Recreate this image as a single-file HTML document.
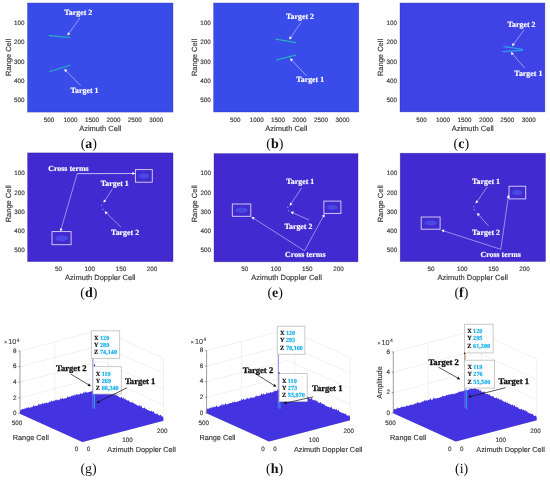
<!DOCTYPE html>
<html><head><meta charset="utf-8"><style>
html,body{margin:0;padding:0;background:#fff;width:550px;height:480px;overflow:hidden}
svg{display:block} text{text-rendering:geometricPrecision}
</style></head><body>
<svg width="550" height="480" viewBox="0 0 550 480">
<rect width="550" height="480" fill="#fff"/>
<rect x="27.50" y="3.00" width="145.50" height="109.10" fill="#394cea" stroke="#2a2fa8" stroke-opacity="0.55" stroke-width="0.6"/>
<text x="24.60" y="25.16" font-size="6.3" text-anchor="end" fill="#3a3a3a" font-family='"Liberation Sans", Arial, sans-serif' font-weight="normal"  stroke="#3a3a3a" stroke-width="0.16">100</text>
<text x="24.60" y="44.46" font-size="6.3" text-anchor="end" fill="#3a3a3a" font-family='"Liberation Sans", Arial, sans-serif' font-weight="normal"  stroke="#3a3a3a" stroke-width="0.16">200</text>
<text x="24.60" y="63.76" font-size="6.3" text-anchor="end" fill="#3a3a3a" font-family='"Liberation Sans", Arial, sans-serif' font-weight="normal"  stroke="#3a3a3a" stroke-width="0.16">300</text>
<text x="24.60" y="83.06" font-size="6.3" text-anchor="end" fill="#3a3a3a" font-family='"Liberation Sans", Arial, sans-serif' font-weight="normal"  stroke="#3a3a3a" stroke-width="0.16">400</text>
<text x="24.60" y="102.36" font-size="6.3" text-anchor="end" fill="#3a3a3a" font-family='"Liberation Sans", Arial, sans-serif' font-weight="normal"  stroke="#3a3a3a" stroke-width="0.16">500</text>
<text x="49.10" y="121.56" font-size="6.3" text-anchor="middle" fill="#3a3a3a" font-family='"Liberation Sans", Arial, sans-serif' font-weight="normal"  stroke="#3a3a3a" stroke-width="0.16">500</text>
<text x="70.54" y="121.56" font-size="6.3" text-anchor="middle" fill="#3a3a3a" font-family='"Liberation Sans", Arial, sans-serif' font-weight="normal"  stroke="#3a3a3a" stroke-width="0.16">1000</text>
<text x="91.98" y="121.56" font-size="6.3" text-anchor="middle" fill="#3a3a3a" font-family='"Liberation Sans", Arial, sans-serif' font-weight="normal"  stroke="#3a3a3a" stroke-width="0.16">1500</text>
<text x="113.42" y="121.56" font-size="6.3" text-anchor="middle" fill="#3a3a3a" font-family='"Liberation Sans", Arial, sans-serif' font-weight="normal"  stroke="#3a3a3a" stroke-width="0.16">2000</text>
<text x="134.86" y="121.56" font-size="6.3" text-anchor="middle" fill="#3a3a3a" font-family='"Liberation Sans", Arial, sans-serif' font-weight="normal"  stroke="#3a3a3a" stroke-width="0.16">2500</text>
<text x="156.30" y="121.56" font-size="6.3" text-anchor="middle" fill="#3a3a3a" font-family='"Liberation Sans", Arial, sans-serif' font-weight="normal"  stroke="#3a3a3a" stroke-width="0.16">3000</text>
<text x="100.20" y="130.99" font-size="7.5" text-anchor="middle" fill="#3a3a3a" font-family='"Liberation Sans", Arial, sans-serif' font-weight="normal"  stroke="#3a3a3a" stroke-width="0.16">Azimuth Cell</text>
<text x="7.90" y="60.19" font-size="7.5" text-anchor="middle" fill="#3a3a3a" font-family='"Liberation Sans", Arial, sans-serif' font-weight="normal" transform="rotate(-90 7.90 57.50)" stroke="#3a3a3a" stroke-width="0.16">Range Cell</text>
<text x="88.80" y="147.60" font-size="14" text-anchor="middle" fill="#111" font-family='"Liberation Serif", "Times New Roman", serif'>(<tspan font-weight="bold">a</tspan>)</text>
<rect x="213.60" y="3.00" width="145.20" height="109.00" fill="#394cea" stroke="#2a2fa8" stroke-opacity="0.55" stroke-width="0.6"/>
<text x="210.70" y="25.16" font-size="6.3" text-anchor="end" fill="#3a3a3a" font-family='"Liberation Sans", Arial, sans-serif' font-weight="normal"  stroke="#3a3a3a" stroke-width="0.16">100</text>
<text x="210.70" y="44.46" font-size="6.3" text-anchor="end" fill="#3a3a3a" font-family='"Liberation Sans", Arial, sans-serif' font-weight="normal"  stroke="#3a3a3a" stroke-width="0.16">200</text>
<text x="210.70" y="63.76" font-size="6.3" text-anchor="end" fill="#3a3a3a" font-family='"Liberation Sans", Arial, sans-serif' font-weight="normal"  stroke="#3a3a3a" stroke-width="0.16">300</text>
<text x="210.70" y="83.06" font-size="6.3" text-anchor="end" fill="#3a3a3a" font-family='"Liberation Sans", Arial, sans-serif' font-weight="normal"  stroke="#3a3a3a" stroke-width="0.16">400</text>
<text x="210.70" y="102.36" font-size="6.3" text-anchor="end" fill="#3a3a3a" font-family='"Liberation Sans", Arial, sans-serif' font-weight="normal"  stroke="#3a3a3a" stroke-width="0.16">500</text>
<text x="235.20" y="121.56" font-size="6.3" text-anchor="middle" fill="#3a3a3a" font-family='"Liberation Sans", Arial, sans-serif' font-weight="normal"  stroke="#3a3a3a" stroke-width="0.16">500</text>
<text x="256.64" y="121.56" font-size="6.3" text-anchor="middle" fill="#3a3a3a" font-family='"Liberation Sans", Arial, sans-serif' font-weight="normal"  stroke="#3a3a3a" stroke-width="0.16">1000</text>
<text x="278.08" y="121.56" font-size="6.3" text-anchor="middle" fill="#3a3a3a" font-family='"Liberation Sans", Arial, sans-serif' font-weight="normal"  stroke="#3a3a3a" stroke-width="0.16">1500</text>
<text x="299.52" y="121.56" font-size="6.3" text-anchor="middle" fill="#3a3a3a" font-family='"Liberation Sans", Arial, sans-serif' font-weight="normal"  stroke="#3a3a3a" stroke-width="0.16">2000</text>
<text x="320.96" y="121.56" font-size="6.3" text-anchor="middle" fill="#3a3a3a" font-family='"Liberation Sans", Arial, sans-serif' font-weight="normal"  stroke="#3a3a3a" stroke-width="0.16">2500</text>
<text x="342.40" y="121.56" font-size="6.3" text-anchor="middle" fill="#3a3a3a" font-family='"Liberation Sans", Arial, sans-serif' font-weight="normal"  stroke="#3a3a3a" stroke-width="0.16">3000</text>
<text x="286.30" y="130.99" font-size="7.5" text-anchor="middle" fill="#3a3a3a" font-family='"Liberation Sans", Arial, sans-serif' font-weight="normal"  stroke="#3a3a3a" stroke-width="0.16">Azimuth Cell</text>
<text x="194.00" y="60.19" font-size="7.5" text-anchor="middle" fill="#3a3a3a" font-family='"Liberation Sans", Arial, sans-serif' font-weight="normal" transform="rotate(-90 194.00 57.50)" stroke="#3a3a3a" stroke-width="0.16">Range Cell</text>
<text x="274.90" y="147.60" font-size="14" text-anchor="middle" fill="#111" font-family='"Liberation Serif", "Times New Roman", serif'>(<tspan font-weight="bold">b</tspan>)</text>
<rect x="400.00" y="3.00" width="144.90" height="108.90" fill="#3f42e4" stroke="#2a2fa8" stroke-opacity="0.55" stroke-width="0.6"/>
<text x="397.10" y="25.16" font-size="6.3" text-anchor="end" fill="#3a3a3a" font-family='"Liberation Sans", Arial, sans-serif' font-weight="normal"  stroke="#3a3a3a" stroke-width="0.16">100</text>
<text x="397.10" y="44.46" font-size="6.3" text-anchor="end" fill="#3a3a3a" font-family='"Liberation Sans", Arial, sans-serif' font-weight="normal"  stroke="#3a3a3a" stroke-width="0.16">200</text>
<text x="397.10" y="63.76" font-size="6.3" text-anchor="end" fill="#3a3a3a" font-family='"Liberation Sans", Arial, sans-serif' font-weight="normal"  stroke="#3a3a3a" stroke-width="0.16">300</text>
<text x="397.10" y="83.06" font-size="6.3" text-anchor="end" fill="#3a3a3a" font-family='"Liberation Sans", Arial, sans-serif' font-weight="normal"  stroke="#3a3a3a" stroke-width="0.16">400</text>
<text x="397.10" y="102.36" font-size="6.3" text-anchor="end" fill="#3a3a3a" font-family='"Liberation Sans", Arial, sans-serif' font-weight="normal"  stroke="#3a3a3a" stroke-width="0.16">500</text>
<text x="421.60" y="121.56" font-size="6.3" text-anchor="middle" fill="#3a3a3a" font-family='"Liberation Sans", Arial, sans-serif' font-weight="normal"  stroke="#3a3a3a" stroke-width="0.16">500</text>
<text x="443.04" y="121.56" font-size="6.3" text-anchor="middle" fill="#3a3a3a" font-family='"Liberation Sans", Arial, sans-serif' font-weight="normal"  stroke="#3a3a3a" stroke-width="0.16">1000</text>
<text x="464.48" y="121.56" font-size="6.3" text-anchor="middle" fill="#3a3a3a" font-family='"Liberation Sans", Arial, sans-serif' font-weight="normal"  stroke="#3a3a3a" stroke-width="0.16">1500</text>
<text x="485.92" y="121.56" font-size="6.3" text-anchor="middle" fill="#3a3a3a" font-family='"Liberation Sans", Arial, sans-serif' font-weight="normal"  stroke="#3a3a3a" stroke-width="0.16">2000</text>
<text x="507.36" y="121.56" font-size="6.3" text-anchor="middle" fill="#3a3a3a" font-family='"Liberation Sans", Arial, sans-serif' font-weight="normal"  stroke="#3a3a3a" stroke-width="0.16">2500</text>
<text x="528.80" y="121.56" font-size="6.3" text-anchor="middle" fill="#3a3a3a" font-family='"Liberation Sans", Arial, sans-serif' font-weight="normal"  stroke="#3a3a3a" stroke-width="0.16">3000</text>
<text x="472.70" y="130.99" font-size="7.5" text-anchor="middle" fill="#3a3a3a" font-family='"Liberation Sans", Arial, sans-serif' font-weight="normal"  stroke="#3a3a3a" stroke-width="0.16">Azimuth Cell</text>
<text x="380.40" y="60.19" font-size="7.5" text-anchor="middle" fill="#3a3a3a" font-family='"Liberation Sans", Arial, sans-serif' font-weight="normal" transform="rotate(-90 380.40 57.50)" stroke="#3a3a3a" stroke-width="0.16">Range Cell</text>
<text x="461.30" y="147.60" font-size="14" text-anchor="middle" fill="#111" font-family='"Liberation Serif", "Times New Roman", serif'>(<tspan font-weight="bold">c</tspan>)</text>
<line x1="49.20" y1="35.60" x2="69.90" y2="37.50" stroke="#26b2bc" stroke-width="1.2" stroke-linecap="round"/>
<line x1="49.90" y1="71.50" x2="69.90" y2="65.20" stroke="#26b2bc" stroke-width="1.2" stroke-linecap="round"/>
<line x1="80.00" y1="17.80" x2="68.84" y2="33.56" stroke="#d4d0fa" stroke-width="0.6" />
<path d="M67.40,35.60 L67.87,32.26 L70.40,34.05 Z" fill="#ffffff" stroke="none" stroke-width="1" />
<line x1="80.70" y1="85.50" x2="65.97" y2="70.77" stroke="#d4d0fa" stroke-width="0.6" />
<path d="M64.20,69.00 L67.42,70.03 L65.23,72.22 Z" fill="#ffffff" stroke="none" stroke-width="1" />
<text x="78.30" y="14.91" font-size="7.9" text-anchor="middle" fill="#ffffff" font-family='"Liberation Serif", "Times New Roman", serif' font-weight="bold" stroke="#ffffff" stroke-width="0.15">Target 2</text>
<text x="84.55" y="93.01" font-size="7.9" text-anchor="middle" fill="#ffffff" font-family='"Liberation Serif", "Times New Roman", serif' font-weight="bold" stroke="#ffffff" stroke-width="0.15">Target 1</text>
<line x1="276.00" y1="39.20" x2="295.80" y2="42.70" stroke="#26b2bc" stroke-width="1.2" stroke-linecap="round"/>
<line x1="276.50" y1="60.00" x2="295.40" y2="55.20" stroke="#26b2bc" stroke-width="1.2" stroke-linecap="round"/>
<line x1="301.00" y1="22.50" x2="290.62" y2="37.54" stroke="#d4d0fa" stroke-width="0.6" />
<path d="M289.20,39.60 L289.63,36.25 L292.18,38.01 Z" fill="#ffffff" stroke="none" stroke-width="1" />
<line x1="306.70" y1="76.00" x2="291.72" y2="60.12" stroke="#d4d0fa" stroke-width="0.6" />
<path d="M290.00,58.30 L293.19,59.42 L290.93,61.55 Z" fill="#ffffff" stroke="none" stroke-width="1" />
<text x="300.05" y="18.71" font-size="7.9" text-anchor="middle" fill="#ffffff" font-family='"Liberation Serif", "Times New Roman", serif' font-weight="bold" stroke="#ffffff" stroke-width="0.15">Target 2</text>
<text x="310.15" y="82.41" font-size="7.9" text-anchor="middle" fill="#ffffff" font-family='"Liberation Serif", "Times New Roman", serif' font-weight="bold" stroke="#ffffff" stroke-width="0.15">Target 1</text>
<line x1="504.00" y1="46.60" x2="522.50" y2="49.40" stroke="#2a9cf0" stroke-width="1.3" stroke-linecap="round"/>
<line x1="502.60" y1="51.60" x2="522.50" y2="50.30" stroke="#2a9cf0" stroke-width="1.3" stroke-linecap="round"/>
<line x1="524.20" y1="29.70" x2="513.48" y2="44.29" stroke="#d4d0fa" stroke-width="0.6" />
<path d="M512.00,46.30 L512.53,42.96 L515.03,44.80 Z" fill="#ffffff" stroke="none" stroke-width="1" />
<line x1="524.70" y1="68.00" x2="512.44" y2="53.89" stroke="#d4d0fa" stroke-width="0.6" />
<path d="M510.80,52.00 L513.94,53.25 L511.60,55.28 Z" fill="#ffffff" stroke="none" stroke-width="1" />
<text x="521.50" y="26.81" font-size="7.9" text-anchor="middle" fill="#ffffff" font-family='"Liberation Serif", "Times New Roman", serif' font-weight="bold" stroke="#ffffff" stroke-width="0.15">Target 2</text>
<text x="528.35" y="75.91" font-size="7.9" text-anchor="middle" fill="#ffffff" font-family='"Liberation Serif", "Times New Roman", serif' font-weight="bold" stroke="#ffffff" stroke-width="0.15">Target 1</text>
<rect x="27.60" y="152.90" width="145.40" height="108.70" fill="#422ad0" stroke="#2a1a98" stroke-opacity="0.55" stroke-width="0.6"/>
<text x="24.70" y="175.26" font-size="6.3" text-anchor="end" fill="#3a3a3a" font-family='"Liberation Sans", Arial, sans-serif' font-weight="normal"  stroke="#3a3a3a" stroke-width="0.16">100</text>
<text x="24.70" y="194.51" font-size="6.3" text-anchor="end" fill="#3a3a3a" font-family='"Liberation Sans", Arial, sans-serif' font-weight="normal"  stroke="#3a3a3a" stroke-width="0.16">200</text>
<text x="24.70" y="213.76" font-size="6.3" text-anchor="end" fill="#3a3a3a" font-family='"Liberation Sans", Arial, sans-serif' font-weight="normal"  stroke="#3a3a3a" stroke-width="0.16">300</text>
<text x="24.70" y="233.01" font-size="6.3" text-anchor="end" fill="#3a3a3a" font-family='"Liberation Sans", Arial, sans-serif' font-weight="normal"  stroke="#3a3a3a" stroke-width="0.16">400</text>
<text x="24.70" y="252.26" font-size="6.3" text-anchor="end" fill="#3a3a3a" font-family='"Liberation Sans", Arial, sans-serif' font-weight="normal"  stroke="#3a3a3a" stroke-width="0.16">500</text>
<text x="58.50" y="270.96" font-size="6.3" text-anchor="middle" fill="#3a3a3a" font-family='"Liberation Sans", Arial, sans-serif' font-weight="normal"  stroke="#3a3a3a" stroke-width="0.16">50</text>
<text x="89.70" y="270.96" font-size="6.3" text-anchor="middle" fill="#3a3a3a" font-family='"Liberation Sans", Arial, sans-serif' font-weight="normal"  stroke="#3a3a3a" stroke-width="0.16">100</text>
<text x="120.90" y="270.96" font-size="6.3" text-anchor="middle" fill="#3a3a3a" font-family='"Liberation Sans", Arial, sans-serif' font-weight="normal"  stroke="#3a3a3a" stroke-width="0.16">150</text>
<text x="152.10" y="270.96" font-size="6.3" text-anchor="middle" fill="#3a3a3a" font-family='"Liberation Sans", Arial, sans-serif' font-weight="normal"  stroke="#3a3a3a" stroke-width="0.16">200</text>
<text x="100.30" y="280.19" font-size="7.5" text-anchor="middle" fill="#3a3a3a" font-family='"Liberation Sans", Arial, sans-serif' font-weight="normal"  stroke="#3a3a3a" stroke-width="0.16">Azimuth Doppler Cell</text>
<text x="8.20" y="206.49" font-size="7.5" text-anchor="middle" fill="#3a3a3a" font-family='"Liberation Sans", Arial, sans-serif' font-weight="normal" transform="rotate(-90 8.20 203.80)" stroke="#3a3a3a" stroke-width="0.16">Range Cell</text>
<text x="88.90" y="296.60" font-size="14" text-anchor="middle" fill="#111" font-family='"Liberation Serif", "Times New Roman", serif'>(<tspan font-weight="bold">d</tspan>)</text>
<rect x="214.00" y="153.60" width="144.00" height="108.20" fill="#422ad0" stroke="#2a1a98" stroke-opacity="0.55" stroke-width="0.6"/>
<text x="211.00" y="175.26" font-size="6.3" text-anchor="end" fill="#3a3a3a" font-family='"Liberation Sans", Arial, sans-serif' font-weight="normal"  stroke="#3a3a3a" stroke-width="0.16">100</text>
<text x="211.00" y="194.51" font-size="6.3" text-anchor="end" fill="#3a3a3a" font-family='"Liberation Sans", Arial, sans-serif' font-weight="normal"  stroke="#3a3a3a" stroke-width="0.16">200</text>
<text x="211.00" y="213.76" font-size="6.3" text-anchor="end" fill="#3a3a3a" font-family='"Liberation Sans", Arial, sans-serif' font-weight="normal"  stroke="#3a3a3a" stroke-width="0.16">300</text>
<text x="211.00" y="233.01" font-size="6.3" text-anchor="end" fill="#3a3a3a" font-family='"Liberation Sans", Arial, sans-serif' font-weight="normal"  stroke="#3a3a3a" stroke-width="0.16">400</text>
<text x="211.00" y="252.26" font-size="6.3" text-anchor="end" fill="#3a3a3a" font-family='"Liberation Sans", Arial, sans-serif' font-weight="normal"  stroke="#3a3a3a" stroke-width="0.16">500</text>
<text x="244.80" y="270.96" font-size="6.3" text-anchor="middle" fill="#3a3a3a" font-family='"Liberation Sans", Arial, sans-serif' font-weight="normal"  stroke="#3a3a3a" stroke-width="0.16">50</text>
<text x="276.00" y="270.96" font-size="6.3" text-anchor="middle" fill="#3a3a3a" font-family='"Liberation Sans", Arial, sans-serif' font-weight="normal"  stroke="#3a3a3a" stroke-width="0.16">100</text>
<text x="307.20" y="270.96" font-size="6.3" text-anchor="middle" fill="#3a3a3a" font-family='"Liberation Sans", Arial, sans-serif' font-weight="normal"  stroke="#3a3a3a" stroke-width="0.16">150</text>
<text x="338.40" y="270.96" font-size="6.3" text-anchor="middle" fill="#3a3a3a" font-family='"Liberation Sans", Arial, sans-serif' font-weight="normal"  stroke="#3a3a3a" stroke-width="0.16">200</text>
<text x="286.60" y="280.19" font-size="7.5" text-anchor="middle" fill="#3a3a3a" font-family='"Liberation Sans", Arial, sans-serif' font-weight="normal"  stroke="#3a3a3a" stroke-width="0.16">Azimuth Doppler Cell</text>
<text x="194.50" y="206.49" font-size="7.5" text-anchor="middle" fill="#3a3a3a" font-family='"Liberation Sans", Arial, sans-serif' font-weight="normal" transform="rotate(-90 194.50 203.80)" stroke="#3a3a3a" stroke-width="0.16">Range Cell</text>
<text x="275.20" y="296.60" font-size="14" text-anchor="middle" fill="#111" font-family='"Liberation Serif", "Times New Roman", serif'>(<tspan font-weight="bold">e</tspan>)</text>
<rect x="400.20" y="153.20" width="145.30" height="108.30" fill="#422ad0" stroke="#2a1a98" stroke-opacity="0.55" stroke-width="0.6"/>
<text x="397.20" y="175.26" font-size="6.3" text-anchor="end" fill="#3a3a3a" font-family='"Liberation Sans", Arial, sans-serif' font-weight="normal"  stroke="#3a3a3a" stroke-width="0.16">100</text>
<text x="397.20" y="194.51" font-size="6.3" text-anchor="end" fill="#3a3a3a" font-family='"Liberation Sans", Arial, sans-serif' font-weight="normal"  stroke="#3a3a3a" stroke-width="0.16">200</text>
<text x="397.20" y="213.76" font-size="6.3" text-anchor="end" fill="#3a3a3a" font-family='"Liberation Sans", Arial, sans-serif' font-weight="normal"  stroke="#3a3a3a" stroke-width="0.16">300</text>
<text x="397.20" y="233.01" font-size="6.3" text-anchor="end" fill="#3a3a3a" font-family='"Liberation Sans", Arial, sans-serif' font-weight="normal"  stroke="#3a3a3a" stroke-width="0.16">400</text>
<text x="397.20" y="252.26" font-size="6.3" text-anchor="end" fill="#3a3a3a" font-family='"Liberation Sans", Arial, sans-serif' font-weight="normal"  stroke="#3a3a3a" stroke-width="0.16">500</text>
<text x="431.00" y="270.96" font-size="6.3" text-anchor="middle" fill="#3a3a3a" font-family='"Liberation Sans", Arial, sans-serif' font-weight="normal"  stroke="#3a3a3a" stroke-width="0.16">50</text>
<text x="462.20" y="270.96" font-size="6.3" text-anchor="middle" fill="#3a3a3a" font-family='"Liberation Sans", Arial, sans-serif' font-weight="normal"  stroke="#3a3a3a" stroke-width="0.16">100</text>
<text x="493.40" y="270.96" font-size="6.3" text-anchor="middle" fill="#3a3a3a" font-family='"Liberation Sans", Arial, sans-serif' font-weight="normal"  stroke="#3a3a3a" stroke-width="0.16">150</text>
<text x="524.60" y="270.96" font-size="6.3" text-anchor="middle" fill="#3a3a3a" font-family='"Liberation Sans", Arial, sans-serif' font-weight="normal"  stroke="#3a3a3a" stroke-width="0.16">200</text>
<text x="472.80" y="280.19" font-size="7.5" text-anchor="middle" fill="#3a3a3a" font-family='"Liberation Sans", Arial, sans-serif' font-weight="normal"  stroke="#3a3a3a" stroke-width="0.16">Azimuth Doppler Cell</text>
<text x="380.70" y="206.49" font-size="7.5" text-anchor="middle" fill="#3a3a3a" font-family='"Liberation Sans", Arial, sans-serif' font-weight="normal" transform="rotate(-90 380.70 203.80)" stroke="#3a3a3a" stroke-width="0.16">Range Cell</text>
<text x="461.40" y="296.60" font-size="14" text-anchor="middle" fill="#111" font-family='"Liberation Serif", "Times New Roman", serif'>(<tspan font-weight="bold">f</tspan>)</text>
<ellipse cx="61.55" cy="238.15" rx="6.35" ry="2.95" fill="#4f5ef0" opacity="0.6"/>
<rect x="52.00" y="231.60" width="19.10" height="13.10" fill="none" stroke="#d8d8f4" stroke-width="0.9"/>
<ellipse cx="143.85" cy="175.90" rx="5.25" ry="2.70" fill="#4f5ef0" opacity="0.6"/>
<rect x="135.40" y="169.60" width="16.90" height="12.60" fill="none" stroke="#d8d8f4" stroke-width="0.9"/>
<text x="68.50" y="170.71" font-size="7.9" text-anchor="middle" fill="#ffffff" font-family='"Liberation Serif", "Times New Roman", serif' font-weight="bold" stroke="#ffffff" stroke-width="0.15">Cross terms</text>
<line x1="77.20" y1="173.60" x2="133.00" y2="173.50" stroke="#d4d0fa" stroke-width="0.6" />
<line x1="77.20" y1="173.60" x2="132.90" y2="173.50" stroke="#d4d0fa" stroke-width="0.6" />
<path d="M135.40,173.50 L132.40,175.06 L132.40,171.96 Z" fill="#ffffff" stroke="none" stroke-width="1" />
<line x1="77.20" y1="173.60" x2="61.10" y2="229.20" stroke="#d4d0fa" stroke-width="0.6" />
<path d="M60.40,231.60 L59.75,228.29 L62.72,229.15 Z" fill="#ffffff" stroke="none" stroke-width="1" />
<text x="114.70" y="186.11" font-size="7.9" text-anchor="middle" fill="#ffffff" font-family='"Liberation Serif", "Times New Roman", serif' font-weight="bold" stroke="#ffffff" stroke-width="0.15">Target 1</text>
<text x="125.10" y="234.51" font-size="7.9" text-anchor="middle" fill="#ffffff" font-family='"Liberation Serif", "Times New Roman", serif' font-weight="bold" stroke="#ffffff" stroke-width="0.15">Target 2</text>
<line x1="112.50" y1="188.80" x2="104.85" y2="200.70" stroke="#d4d0fa" stroke-width="0.6" />
<path d="M103.50,202.80 L103.82,199.44 L106.43,201.11 Z" fill="#ffffff" stroke="none" stroke-width="1" />
<line x1="121.00" y1="227.20" x2="106.39" y2="213.04" stroke="#d4d0fa" stroke-width="0.6" />
<path d="M104.60,211.30 L107.83,212.28 L105.67,214.50 Z" fill="#ffffff" stroke="none" stroke-width="1" />
<circle cx="101.60" cy="205.30" r="0.8" fill="#3aa0f0"/>
<circle cx="102.80" cy="209.40" r="0.8" fill="#3aa0f0"/>
<ellipse cx="241.55" cy="210.15" rx="6.05" ry="2.55" fill="#4f5ef0" opacity="0.6"/>
<rect x="232.30" y="204.00" width="18.50" height="12.30" fill="none" stroke="#d8d8f4" stroke-width="0.9"/>
<ellipse cx="332.40" cy="207.25" rx="5.30" ry="2.55" fill="#4f5ef0" opacity="0.6"/>
<rect x="323.90" y="201.10" width="17.00" height="12.30" fill="none" stroke="#d8d8f4" stroke-width="0.9"/>
<text x="300.30" y="184.31" font-size="7.9" text-anchor="middle" fill="#ffffff" font-family='"Liberation Serif", "Times New Roman", serif' font-weight="bold" stroke="#ffffff" stroke-width="0.15">Target 1</text>
<text x="298.40" y="229.31" font-size="7.9" text-anchor="middle" fill="#ffffff" font-family='"Liberation Serif", "Times New Roman", serif' font-weight="bold" stroke="#ffffff" stroke-width="0.15">Target 2</text>
<line x1="301.60" y1="188.00" x2="291.00" y2="203.73" stroke="#d4d0fa" stroke-width="0.6" />
<path d="M289.60,205.80 L289.99,202.45 L292.56,204.18 Z" fill="#ffffff" stroke="none" stroke-width="1" />
<line x1="309.00" y1="220.00" x2="292.79" y2="212.81" stroke="#d4d0fa" stroke-width="0.6" />
<path d="M290.50,211.80 L293.87,211.60 L292.61,214.43 Z" fill="#ffffff" stroke="none" stroke-width="1" />
<circle cx="287.80" cy="207.40" r="0.8" fill="#3aa0f0"/>
<circle cx="288.50" cy="210.70" r="0.8" fill="#3aa0f0"/>
<line x1="304.50" y1="250.80" x2="253.51" y2="218.25" stroke="#d4d0fa" stroke-width="0.6" />
<path d="M251.40,216.90 L254.76,217.21 L253.09,219.82 Z" fill="#ffffff" stroke="none" stroke-width="1" />
<line x1="304.50" y1="250.80" x2="323.40" y2="216.19" stroke="#d4d0fa" stroke-width="0.6" />
<path d="M324.60,214.00 L324.52,217.38 L321.80,215.89 Z" fill="#ffffff" stroke="none" stroke-width="1" />
<text x="305.30" y="257.21" font-size="7.9" text-anchor="middle" fill="#ffffff" font-family='"Liberation Serif", "Times New Roman", serif' font-weight="bold" stroke="#ffffff" stroke-width="0.15">Cross terms</text>
<ellipse cx="430.65" cy="223.10" rx="6.25" ry="2.50" fill="#4f5ef0" opacity="0.6"/>
<rect x="421.20" y="217.00" width="18.90" height="12.20" fill="none" stroke="#d8d8f4" stroke-width="0.9"/>
<ellipse cx="517.35" cy="192.55" rx="5.15" ry="2.75" fill="#4f5ef0" opacity="0.6"/>
<rect x="509.00" y="186.20" width="16.70" height="12.70" fill="none" stroke="#d8d8f4" stroke-width="0.9"/>
<text x="486.00" y="183.71" font-size="7.9" text-anchor="middle" fill="#ffffff" font-family='"Liberation Serif", "Times New Roman", serif' font-weight="bold" stroke="#ffffff" stroke-width="0.15">Target 1</text>
<text x="486.00" y="234.91" font-size="7.9" text-anchor="middle" fill="#ffffff" font-family='"Liberation Serif", "Times New Roman", serif' font-weight="bold" stroke="#ffffff" stroke-width="0.15">Target 2</text>
<line x1="487.20" y1="186.90" x2="477.03" y2="201.55" stroke="#d4d0fa" stroke-width="0.6" />
<path d="M475.60,203.60 L476.04,200.25 L478.58,202.02 Z" fill="#ffffff" stroke="none" stroke-width="1" />
<line x1="488.50" y1="225.90" x2="478.56" y2="214.77" stroke="#d4d0fa" stroke-width="0.6" />
<path d="M476.90,212.90 L480.05,214.11 L477.74,216.17 Z" fill="#ffffff" stroke="none" stroke-width="1" />
<circle cx="473.80" cy="206.70" r="0.8" fill="#3aa0f0"/>
<circle cx="474.30" cy="209.60" r="0.8" fill="#3aa0f0"/>
<line x1="500.80" y1="249.30" x2="443.58" y2="230.87" stroke="#d4d0fa" stroke-width="0.6" />
<path d="M441.20,230.10 L444.53,229.54 L443.58,232.50 Z" fill="#ffffff" stroke="none" stroke-width="1" />
<line x1="500.80" y1="249.30" x2="508.25" y2="197.17" stroke="#d4d0fa" stroke-width="0.6" />
<path d="M508.60,194.70 L509.71,197.89 L506.64,197.45 Z" fill="#ffffff" stroke="none" stroke-width="1" />
<text x="500.70" y="257.41" font-size="7.9" text-anchor="middle" fill="#ffffff" font-family='"Liberation Serif", "Times New Roman", serif' font-weight="bold" stroke="#ffffff" stroke-width="0.15">Cross terms</text>
<line x1="20.00" y1="397.80" x2="101.00" y2="376.60" stroke="#ebebeb" stroke-width="0.7" />
<line x1="101.00" y1="376.60" x2="163.40" y2="404.80" stroke="#ebebeb" stroke-width="0.7" />
<line x1="20.00" y1="382.20" x2="101.00" y2="361.00" stroke="#ebebeb" stroke-width="0.7" />
<line x1="101.00" y1="361.00" x2="163.40" y2="389.20" stroke="#ebebeb" stroke-width="0.7" />
<line x1="20.00" y1="366.60" x2="101.00" y2="345.40" stroke="#ebebeb" stroke-width="0.7" />
<line x1="101.00" y1="345.40" x2="163.40" y2="373.60" stroke="#ebebeb" stroke-width="0.7" />
<line x1="20.00" y1="351.00" x2="101.00" y2="329.80" stroke="#ebebeb" stroke-width="0.7" />
<line x1="101.00" y1="329.80" x2="163.40" y2="358.00" stroke="#ebebeb" stroke-width="0.7" />
<line x1="54.76" y1="404.30" x2="54.76" y2="341.90" stroke="#ebebeb" stroke-width="0.7" />
<line x1="108.18" y1="395.44" x2="108.18" y2="333.04" stroke="#ebebeb" stroke-width="0.7" />
<line x1="163.40" y1="420.40" x2="163.40" y2="358.00" stroke="#ebebeb" stroke-width="0.7" />
<line x1="20.00" y1="413.40" x2="82.40" y2="441.60" stroke="#9a9a9a" stroke-width="0.6" />
<line x1="82.40" y1="441.60" x2="163.40" y2="420.40" stroke="#9a9a9a" stroke-width="0.6" />
<path d="M20.00,413.70 L20.00,410.90 L20.90,409.64 L21.80,409.73 L22.70,408.50 L23.60,409.26 L24.50,408.41 L25.40,408.79 L26.30,407.42 L27.20,408.32 L28.10,406.90 L29.00,407.84 L29.90,407.66 L30.80,407.37 L31.70,407.31 L32.60,406.90 L33.50,405.02 L34.40,406.43 L35.30,405.82 L36.20,405.96 L37.10,405.41 L38.00,405.49 L38.90,403.26 L39.80,405.02 L40.70,403.95 L41.60,404.55 L42.50,402.67 L43.40,404.08 L44.30,402.99 L45.20,403.60 L46.10,402.16 L47.00,403.13 L47.90,402.77 L48.80,402.66 L49.70,401.23 L50.60,402.19 L51.50,400.25 L52.40,401.72 L53.30,400.53 L54.20,401.25 L55.10,399.58 L56.00,400.78 L56.90,399.27 L57.80,400.31 L58.70,400.13 L59.60,399.84 L60.50,398.13 L61.40,399.36 L62.30,398.03 L63.20,398.89 L64.10,398.19 L65.00,398.42 L65.90,398.32 L66.80,397.95 L67.70,396.01 L68.60,397.48 L69.50,396.40 L70.40,397.01 L71.30,395.39 L72.20,396.54 L73.10,394.57 L74.00,396.07 L74.90,394.46 L75.80,395.60 L76.70,393.53 L77.60,395.12 L78.50,394.22 L79.40,394.65 L80.30,392.86 L81.20,394.18 L82.10,393.17 L83.00,393.71 L83.90,391.62 L84.80,393.24 L85.70,391.27 L86.60,392.77 L87.50,392.52 L88.40,392.30 L89.30,391.96 L90.20,391.83 L91.10,391.31 L92.00,391.36 L92.90,389.20 L93.80,390.88 L94.70,389.89 L95.60,390.41 L96.50,389.00 L97.40,389.94 L98.30,389.24 L99.20,389.47 L100.10,388.32 L101.00,389.00 L101.89,388.75 L102.78,389.81 L103.67,389.64 L104.57,390.61 L105.46,389.93 L106.35,391.42 L107.24,390.73 L108.13,392.22 L109.02,390.84 L109.91,393.03 L110.81,392.13 L111.70,393.83 L112.59,392.39 L113.48,394.64 L114.37,393.36 L115.26,395.45 L116.15,393.87 L117.05,396.25 L117.94,395.38 L118.83,397.06 L119.72,397.30 L120.61,397.86 L121.50,396.57 L122.39,398.67 L123.29,397.15 L124.18,399.47 L125.07,398.09 L125.96,400.28 L126.85,399.63 L127.74,401.09 L128.63,400.12 L129.53,401.89 L130.42,402.03 L131.31,402.70 L132.20,401.47 L133.09,403.50 L133.98,402.84 L134.87,404.31 L135.77,404.28 L136.66,405.11 L137.55,405.58 L138.44,405.92 L139.33,404.64 L140.22,406.73 L141.11,405.15 L142.01,407.53 L142.90,407.94 L143.79,408.34 L144.68,407.18 L145.57,409.14 L146.46,408.84 L147.35,409.95 L148.25,410.22 L149.14,410.75 L150.03,410.71 L150.92,411.56 L151.81,410.47 L152.70,412.37 L153.59,411.05 L154.49,413.17 L155.38,413.68 L156.27,413.98 L157.16,413.23 L158.05,414.78 L158.94,415.29 L159.83,415.59 L160.73,414.61 L161.62,416.39 L162.51,416.27 L163.40,417.70 L163.40,420.70 L82.40,441.90 Z" fill="#4433e0" stroke="none" stroke-width="1" />
<line x1="20.00" y1="413.40" x2="20.00" y2="351.00" stroke="#5a5a5a" stroke-width="0.6" />
<line x1="18.40" y1="413.40" x2="20.00" y2="413.40" stroke="#5a5a5a" stroke-width="0.6" />
<text x="16.60" y="415.16" font-size="6.3" text-anchor="end" fill="#3a3a3a" font-family='"Liberation Sans", Arial, sans-serif' font-weight="normal"  stroke="#3a3a3a" stroke-width="0.16">0</text>
<line x1="18.40" y1="397.80" x2="20.00" y2="397.80" stroke="#5a5a5a" stroke-width="0.6" />
<text x="16.60" y="399.56" font-size="6.3" text-anchor="end" fill="#3a3a3a" font-family='"Liberation Sans", Arial, sans-serif' font-weight="normal"  stroke="#3a3a3a" stroke-width="0.16">2</text>
<line x1="18.40" y1="382.20" x2="20.00" y2="382.20" stroke="#5a5a5a" stroke-width="0.6" />
<text x="16.60" y="383.96" font-size="6.3" text-anchor="end" fill="#3a3a3a" font-family='"Liberation Sans", Arial, sans-serif' font-weight="normal"  stroke="#3a3a3a" stroke-width="0.16">4</text>
<line x1="18.40" y1="366.60" x2="20.00" y2="366.60" stroke="#5a5a5a" stroke-width="0.6" />
<text x="16.60" y="368.36" font-size="6.3" text-anchor="end" fill="#3a3a3a" font-family='"Liberation Sans", Arial, sans-serif' font-weight="normal"  stroke="#3a3a3a" stroke-width="0.16">6</text>
<line x1="18.40" y1="351.00" x2="20.00" y2="351.00" stroke="#5a5a5a" stroke-width="0.6" />
<text x="16.60" y="352.76" font-size="6.3" text-anchor="end" fill="#3a3a3a" font-family='"Liberation Sans", Arial, sans-serif' font-weight="normal"  stroke="#3a3a3a" stroke-width="0.16">8</text>
<text x="4.00" y="344.40" font-size="7.2" fill="#3a3a3a" stroke="#3a3a3a" stroke-width="0.1" font-family='"Liberation Sans", Arial, sans-serif'><tspan font-size="5.8">&#215;</tspan><tspan dx="0.9">10</tspan><tspan font-size="5.0" dx="0.5" dy="-2.9">4</tspan></text>
<text x="17.10" y="425.06" font-size="6.3" text-anchor="middle" fill="#3a3a3a" font-family='"Liberation Sans", Arial, sans-serif' font-weight="normal"  stroke="#3a3a3a" stroke-width="0.16">500</text>
<text x="76.40" y="451.06" font-size="6.3" text-anchor="middle" fill="#3a3a3a" font-family='"Liberation Sans", Arial, sans-serif' font-weight="normal"  stroke="#3a3a3a" stroke-width="0.16">0</text>
<text x="88.40" y="451.06" font-size="6.3" text-anchor="middle" fill="#3a3a3a" font-family='"Liberation Sans", Arial, sans-serif' font-weight="normal"  stroke="#3a3a3a" stroke-width="0.16">0</text>
<text x="127.46" y="442.36" font-size="6.3" text-anchor="middle" fill="#3a3a3a" font-family='"Liberation Sans", Arial, sans-serif' font-weight="normal"  stroke="#3a3a3a" stroke-width="0.16">100</text>
<text x="162.23" y="433.26" font-size="6.3" text-anchor="middle" fill="#3a3a3a" font-family='"Liberation Sans", Arial, sans-serif' font-weight="normal"  stroke="#3a3a3a" stroke-width="0.16">200</text>
<text x="12.80" y="440.00" font-size="7.3" text-anchor="start" fill="#3a3a3a" font-family='"Liberation Sans", Arial, sans-serif' font-weight="normal"  stroke="#3a3a3a" stroke-width="0.16">Range Cell</text>
<text x="107.30" y="451.60" font-size="7.3" text-anchor="start" fill="#3a3a3a" font-family='"Liberation Sans", Arial, sans-serif' font-weight="normal"  stroke="#3a3a3a" stroke-width="0.16">Azimuth Doppler Cell</text>
<line x1="92.90" y1="358.50" x2="92.90" y2="408.00" stroke="#7474ea" stroke-width="0.9" />
<line x1="94.50" y1="395.00" x2="94.50" y2="409.00" stroke="#2a9cf2" stroke-width="1.1" />
<rect x="91.30" y="330.80" width="28.40" height="27.60" fill="#ffffff" stroke="#bdbdbd" stroke-width="0.8"/>
<text x="94.10" y="339.90" font-size="6.2" font-weight="bold" fill="#111" stroke="#111" stroke-width="0.18" font-family='"Liberation Serif", "Times New Roman", serif'>X</text>
<text x="100.00" y="339.90" font-size="6.2" font-weight="bold" fill="#14b0ec" stroke="#14b0ec" stroke-width="0.18" font-family='"Liberation Serif", "Times New Roman", serif'>120</text>
<text x="94.10" y="347.00" font-size="6.2" font-weight="bold" fill="#111" stroke="#111" stroke-width="0.18" font-family='"Liberation Serif", "Times New Roman", serif'>Y</text>
<text x="100.00" y="347.00" font-size="6.2" font-weight="bold" fill="#14b0ec" stroke="#14b0ec" stroke-width="0.18" font-family='"Liberation Serif", "Times New Roman", serif'>289</text>
<text x="94.10" y="354.10" font-size="6.2" font-weight="bold" fill="#111" stroke="#111" stroke-width="0.18" font-family='"Liberation Serif", "Times New Roman", serif'>Z</text>
<text x="100.00" y="354.10" font-size="6.2" font-weight="bold" fill="#14b0ec" stroke="#14b0ec" stroke-width="0.18" font-family='"Liberation Serif", "Times New Roman", serif'>74,140</text>
<rect x="93.00" y="366.70" width="28.30" height="27.30" fill="#ffffff" stroke="#bdbdbd" stroke-width="0.8"/>
<text x="95.80" y="375.80" font-size="6.2" font-weight="bold" fill="#111" stroke="#111" stroke-width="0.18" font-family='"Liberation Serif", "Times New Roman", serif'>X</text>
<text x="101.70" y="375.80" font-size="6.2" font-weight="bold" fill="#14b0ec" stroke="#14b0ec" stroke-width="0.18" font-family='"Liberation Serif", "Times New Roman", serif'>119</text>
<text x="95.80" y="382.90" font-size="6.2" font-weight="bold" fill="#111" stroke="#111" stroke-width="0.18" font-family='"Liberation Serif", "Times New Roman", serif'>Y</text>
<text x="101.70" y="382.90" font-size="6.2" font-weight="bold" fill="#14b0ec" stroke="#14b0ec" stroke-width="0.18" font-family='"Liberation Serif", "Times New Roman", serif'>269</text>
<text x="95.80" y="390.00" font-size="6.2" font-weight="bold" fill="#111" stroke="#111" stroke-width="0.18" font-family='"Liberation Serif", "Times New Roman", serif'>Z</text>
<text x="101.70" y="390.00" font-size="6.2" font-weight="bold" fill="#14b0ec" stroke="#14b0ec" stroke-width="0.18" font-family='"Liberation Serif", "Times New Roman", serif'>66,340</text>
<circle cx="94.5" cy="365.3" r="0.7" fill="#111"/>
<text x="71.25" y="371.35" font-size="8.6" text-anchor="middle" fill="#111" font-family='"Liberation Serif", "Times New Roman", serif' font-weight="bold" stroke="#111" stroke-width="0.3">Target 2</text>
<text x="140.15" y="383.55" font-size="8.6" text-anchor="middle" fill="#111" font-family='"Liberation Serif", "Times New Roman", serif' font-weight="bold" stroke="#111" stroke-width="0.3">Target 1</text>
<line x1="70.50" y1="373.90" x2="88.76" y2="384.91" stroke="#111" stroke-width="0.7" />
<path d="M90.90,386.20 L87.53,385.98 L89.13,383.32 Z" fill="#111" stroke="none" stroke-width="1" />
<line x1="126.90" y1="387.80" x2="98.84" y2="401.78" stroke="#111" stroke-width="0.7" />
<path d="M96.60,402.90 L98.59,400.17 L99.98,402.95 Z" fill="#111" stroke="none" stroke-width="1" />
<line x1="206.60" y1="397.30" x2="287.60" y2="376.10" stroke="#ebebeb" stroke-width="0.7" />
<line x1="287.60" y1="376.10" x2="350.00" y2="404.30" stroke="#ebebeb" stroke-width="0.7" />
<line x1="206.60" y1="381.70" x2="287.60" y2="360.50" stroke="#ebebeb" stroke-width="0.7" />
<line x1="287.60" y1="360.50" x2="350.00" y2="388.70" stroke="#ebebeb" stroke-width="0.7" />
<line x1="206.60" y1="366.10" x2="287.60" y2="344.90" stroke="#ebebeb" stroke-width="0.7" />
<line x1="287.60" y1="344.90" x2="350.00" y2="373.10" stroke="#ebebeb" stroke-width="0.7" />
<line x1="206.60" y1="350.50" x2="287.60" y2="329.30" stroke="#ebebeb" stroke-width="0.7" />
<line x1="287.60" y1="329.30" x2="350.00" y2="357.50" stroke="#ebebeb" stroke-width="0.7" />
<line x1="241.36" y1="403.80" x2="241.36" y2="341.40" stroke="#ebebeb" stroke-width="0.7" />
<line x1="294.78" y1="394.94" x2="294.78" y2="332.54" stroke="#ebebeb" stroke-width="0.7" />
<line x1="350.00" y1="419.90" x2="350.00" y2="357.50" stroke="#ebebeb" stroke-width="0.7" />
<line x1="206.60" y1="412.90" x2="269.00" y2="441.10" stroke="#9a9a9a" stroke-width="0.6" />
<line x1="269.00" y1="441.10" x2="350.00" y2="419.90" stroke="#9a9a9a" stroke-width="0.6" />
<path d="M206.60,413.20 L206.60,410.40 L207.50,408.29 L208.40,409.23 L209.30,407.56 L210.20,408.76 L211.10,406.97 L212.00,408.29 L212.90,406.18 L213.80,407.82 L214.70,406.15 L215.60,407.34 L216.50,405.28 L217.40,406.87 L218.30,406.77 L219.20,406.40 L220.10,405.34 L221.00,405.93 L221.90,403.82 L222.80,405.46 L223.70,404.00 L224.60,404.99 L225.50,402.97 L226.40,404.52 L227.30,404.23 L228.20,404.05 L229.10,402.98 L230.00,403.58 L230.90,403.00 L231.80,403.10 L232.70,401.87 L233.60,402.63 L234.50,401.34 L235.40,402.16 L236.30,402.10 L237.20,401.69 L238.10,401.18 L239.00,401.22 L239.90,400.57 L240.80,400.75 L241.70,398.70 L242.60,400.28 L243.50,398.56 L244.40,399.81 L245.30,399.42 L246.20,399.34 L247.10,397.55 L248.00,398.86 L248.90,398.52 L249.80,398.39 L250.70,397.00 L251.60,397.92 L252.50,397.61 L253.40,397.45 L254.30,397.41 L255.20,396.98 L256.10,395.03 L257.00,396.51 L257.90,396.01 L258.80,396.04 L259.70,395.53 L260.60,395.57 L261.50,393.37 L262.40,395.10 L263.30,393.14 L264.20,394.62 L265.10,393.95 L266.00,394.15 L266.90,392.00 L267.80,393.68 L268.70,392.46 L269.60,393.21 L270.50,391.68 L271.40,392.74 L272.30,392.25 L273.20,392.27 L274.10,390.16 L275.00,391.80 L275.90,390.24 L276.80,391.33 L277.70,389.16 L278.60,390.86 L279.50,388.85 L280.40,390.38 L281.30,389.69 L282.20,389.91 L283.10,389.08 L284.00,389.44 L284.90,389.04 L285.80,388.97 L286.70,388.62 L287.60,388.50 L288.49,388.96 L289.38,389.31 L290.27,389.25 L291.17,390.11 L292.06,389.39 L292.95,390.92 L293.84,391.51 L294.73,391.72 L295.62,390.83 L296.51,392.53 L297.41,392.39 L298.30,393.33 L299.19,393.26 L300.08,394.14 L300.97,392.94 L301.86,394.95 L302.75,394.49 L303.65,395.75 L304.54,395.66 L305.43,396.56 L306.32,396.10 L307.21,397.36 L308.10,396.42 L308.99,398.17 L309.89,398.65 L310.78,398.97 L311.67,397.43 L312.56,399.78 L313.45,400.33 L314.34,400.59 L315.23,399.54 L316.13,401.39 L317.02,400.14 L317.91,402.20 L318.80,402.76 L319.69,403.00 L320.58,401.87 L321.47,403.81 L322.37,403.61 L323.26,404.61 L324.15,403.94 L325.04,405.42 L325.93,406.00 L326.82,406.23 L327.71,406.73 L328.61,407.03 L329.50,407.24 L330.39,407.84 L331.28,406.34 L332.17,408.64 L333.06,408.81 L333.95,409.45 L334.85,408.39 L335.74,410.25 L336.63,408.81 L337.52,411.06 L338.41,409.59 L339.30,411.87 L340.19,411.71 L341.09,412.67 L341.98,412.49 L342.87,413.48 L343.76,412.93 L344.65,414.28 L345.54,413.18 L346.43,415.09 L347.33,415.45 L348.22,415.89 L349.11,414.85 L350.00,417.20 L350.00,420.20 L269.00,441.40 Z" fill="#4433e0" stroke="none" stroke-width="1" />
<line x1="206.60" y1="412.90" x2="206.60" y2="350.50" stroke="#5a5a5a" stroke-width="0.6" />
<line x1="205.00" y1="412.90" x2="206.60" y2="412.90" stroke="#5a5a5a" stroke-width="0.6" />
<text x="203.20" y="414.66" font-size="6.3" text-anchor="end" fill="#3a3a3a" font-family='"Liberation Sans", Arial, sans-serif' font-weight="normal"  stroke="#3a3a3a" stroke-width="0.16">0</text>
<line x1="205.00" y1="397.30" x2="206.60" y2="397.30" stroke="#5a5a5a" stroke-width="0.6" />
<text x="203.20" y="399.06" font-size="6.3" text-anchor="end" fill="#3a3a3a" font-family='"Liberation Sans", Arial, sans-serif' font-weight="normal"  stroke="#3a3a3a" stroke-width="0.16">2</text>
<line x1="205.00" y1="381.70" x2="206.60" y2="381.70" stroke="#5a5a5a" stroke-width="0.6" />
<text x="203.20" y="383.46" font-size="6.3" text-anchor="end" fill="#3a3a3a" font-family='"Liberation Sans", Arial, sans-serif' font-weight="normal"  stroke="#3a3a3a" stroke-width="0.16">4</text>
<line x1="205.00" y1="366.10" x2="206.60" y2="366.10" stroke="#5a5a5a" stroke-width="0.6" />
<text x="203.20" y="367.86" font-size="6.3" text-anchor="end" fill="#3a3a3a" font-family='"Liberation Sans", Arial, sans-serif' font-weight="normal"  stroke="#3a3a3a" stroke-width="0.16">6</text>
<line x1="205.00" y1="350.50" x2="206.60" y2="350.50" stroke="#5a5a5a" stroke-width="0.6" />
<text x="203.20" y="352.26" font-size="6.3" text-anchor="end" fill="#3a3a3a" font-family='"Liberation Sans", Arial, sans-serif' font-weight="normal"  stroke="#3a3a3a" stroke-width="0.16">8</text>
<text x="190.60" y="343.90" font-size="7.2" fill="#3a3a3a" stroke="#3a3a3a" stroke-width="0.1" font-family='"Liberation Sans", Arial, sans-serif'><tspan font-size="5.8">&#215;</tspan><tspan dx="0.9">10</tspan><tspan font-size="5.0" dx="0.5" dy="-2.9">4</tspan></text>
<text x="203.70" y="424.56" font-size="6.3" text-anchor="middle" fill="#3a3a3a" font-family='"Liberation Sans", Arial, sans-serif' font-weight="normal"  stroke="#3a3a3a" stroke-width="0.16">500</text>
<text x="263.00" y="450.56" font-size="6.3" text-anchor="middle" fill="#3a3a3a" font-family='"Liberation Sans", Arial, sans-serif' font-weight="normal"  stroke="#3a3a3a" stroke-width="0.16">0</text>
<text x="275.00" y="450.56" font-size="6.3" text-anchor="middle" fill="#3a3a3a" font-family='"Liberation Sans", Arial, sans-serif' font-weight="normal"  stroke="#3a3a3a" stroke-width="0.16">0</text>
<text x="314.06" y="441.86" font-size="6.3" text-anchor="middle" fill="#3a3a3a" font-family='"Liberation Sans", Arial, sans-serif' font-weight="normal"  stroke="#3a3a3a" stroke-width="0.16">100</text>
<text x="348.83" y="432.76" font-size="6.3" text-anchor="middle" fill="#3a3a3a" font-family='"Liberation Sans", Arial, sans-serif' font-weight="normal"  stroke="#3a3a3a" stroke-width="0.16">200</text>
<text x="199.40" y="440.00" font-size="7.3" text-anchor="start" fill="#3a3a3a" font-family='"Liberation Sans", Arial, sans-serif' font-weight="normal"  stroke="#3a3a3a" stroke-width="0.16">Range Cell</text>
<text x="293.90" y="451.60" font-size="7.3" text-anchor="start" fill="#3a3a3a" font-family='"Liberation Sans", Arial, sans-serif' font-weight="normal"  stroke="#3a3a3a" stroke-width="0.16">Azimuth Doppler Cell</text>
<line x1="278.30" y1="354.50" x2="278.30" y2="408.00" stroke="#7474ea" stroke-width="0.9" />
<line x1="279.90" y1="401.00" x2="279.90" y2="409.00" stroke="#2a9cf2" stroke-width="1.1" />
<rect x="277.20" y="326.20" width="27.70" height="28.10" fill="#ffffff" stroke="#bdbdbd" stroke-width="0.8"/>
<text x="280.00" y="335.30" font-size="6.2" font-weight="bold" fill="#111" stroke="#111" stroke-width="0.18" font-family='"Liberation Serif", "Times New Roman", serif'>X</text>
<text x="285.90" y="335.30" font-size="6.2" font-weight="bold" fill="#14b0ec" stroke="#14b0ec" stroke-width="0.18" font-family='"Liberation Serif", "Times New Roman", serif'>120</text>
<text x="280.00" y="342.40" font-size="6.2" font-weight="bold" fill="#111" stroke="#111" stroke-width="0.18" font-family='"Liberation Serif", "Times New Roman", serif'>Y</text>
<text x="285.90" y="342.40" font-size="6.2" font-weight="bold" fill="#14b0ec" stroke="#14b0ec" stroke-width="0.18" font-family='"Liberation Serif", "Times New Roman", serif'>293</text>
<text x="280.00" y="349.50" font-size="6.2" font-weight="bold" fill="#111" stroke="#111" stroke-width="0.18" font-family='"Liberation Serif", "Times New Roman", serif'>Z</text>
<text x="285.90" y="349.50" font-size="6.2" font-weight="bold" fill="#14b0ec" stroke="#14b0ec" stroke-width="0.18" font-family='"Liberation Serif", "Times New Roman", serif'>78,160</text>
<rect x="279.10" y="373.40" width="28.10" height="28.20" fill="#ffffff" stroke="#bdbdbd" stroke-width="0.8"/>
<text x="281.90" y="382.50" font-size="6.2" font-weight="bold" fill="#111" stroke="#111" stroke-width="0.18" font-family='"Liberation Serif", "Times New Roman", serif'>X</text>
<text x="287.80" y="382.50" font-size="6.2" font-weight="bold" fill="#14b0ec" stroke="#14b0ec" stroke-width="0.18" font-family='"Liberation Serif", "Times New Roman", serif'>119</text>
<text x="281.90" y="389.60" font-size="6.2" font-weight="bold" fill="#111" stroke="#111" stroke-width="0.18" font-family='"Liberation Serif", "Times New Roman", serif'>Y</text>
<text x="287.80" y="389.60" font-size="6.2" font-weight="bold" fill="#14b0ec" stroke="#14b0ec" stroke-width="0.18" font-family='"Liberation Serif", "Times New Roman", serif'>273</text>
<text x="281.90" y="396.70" font-size="6.2" font-weight="bold" fill="#111" stroke="#111" stroke-width="0.18" font-family='"Liberation Serif", "Times New Roman", serif'>Z</text>
<text x="287.80" y="396.70" font-size="6.2" font-weight="bold" fill="#14b0ec" stroke="#14b0ec" stroke-width="0.18" font-family='"Liberation Serif", "Times New Roman", serif'>55,970</text>
<circle cx="279" cy="373" r="0.7" fill="#111"/>
<text x="257.95" y="372.95" font-size="8.6" text-anchor="middle" fill="#111" font-family='"Liberation Serif", "Times New Roman", serif' font-weight="bold" stroke="#111" stroke-width="0.3">Target 2</text>
<text x="327.20" y="390.85" font-size="8.6" text-anchor="middle" fill="#111" font-family='"Liberation Serif", "Times New Roman", serif' font-weight="bold" stroke="#111" stroke-width="0.3">Target 1</text>
<line x1="254.90" y1="373.40" x2="274.28" y2="385.48" stroke="#111" stroke-width="0.7" />
<path d="M276.40,386.80 L273.03,386.53 L274.67,383.90 Z" fill="#111" stroke="none" stroke-width="1" />
<line x1="313.40" y1="396.80" x2="285.94" y2="402.95" stroke="#111" stroke-width="0.7" />
<path d="M283.50,403.50 L286.09,401.33 L286.77,404.36 Z" fill="#111" stroke="none" stroke-width="1" />
<line x1="393.30" y1="392.57" x2="474.30" y2="371.37" stroke="#ebebeb" stroke-width="0.7" />
<line x1="474.30" y1="371.37" x2="536.70" y2="399.57" stroke="#ebebeb" stroke-width="0.7" />
<line x1="393.30" y1="372.23" x2="474.30" y2="351.03" stroke="#ebebeb" stroke-width="0.7" />
<line x1="474.30" y1="351.03" x2="536.70" y2="379.23" stroke="#ebebeb" stroke-width="0.7" />
<line x1="393.30" y1="351.90" x2="474.30" y2="330.70" stroke="#ebebeb" stroke-width="0.7" />
<line x1="474.30" y1="330.70" x2="536.70" y2="358.90" stroke="#ebebeb" stroke-width="0.7" />
<line x1="428.06" y1="403.80" x2="428.06" y2="342.80" stroke="#ebebeb" stroke-width="0.7" />
<line x1="481.48" y1="394.94" x2="481.48" y2="333.94" stroke="#ebebeb" stroke-width="0.7" />
<line x1="536.70" y1="419.90" x2="536.70" y2="358.90" stroke="#ebebeb" stroke-width="0.7" />
<line x1="393.30" y1="412.90" x2="455.70" y2="441.10" stroke="#9a9a9a" stroke-width="0.6" />
<line x1="455.70" y1="441.10" x2="536.70" y2="419.90" stroke="#9a9a9a" stroke-width="0.6" />
<path d="M393.30,413.20 L393.30,410.40 L394.20,408.95 L395.10,409.23 L396.00,408.86 L396.90,408.76 L397.80,407.29 L398.70,408.29 L399.60,408.09 L400.50,407.82 L401.40,406.60 L402.30,407.34 L403.20,406.50 L404.10,406.87 L405.00,406.71 L405.90,406.40 L406.80,405.25 L407.70,405.93 L408.60,405.81 L409.50,405.46 L410.40,404.47 L411.30,404.99 L412.20,404.80 L413.10,404.52 L414.00,404.28 L414.90,404.05 L415.80,403.08 L416.70,403.58 L417.60,401.72 L418.50,403.10 L419.40,402.80 L420.30,402.63 L421.20,402.11 L422.10,402.16 L423.00,400.75 L423.90,401.69 L424.80,399.57 L425.70,401.22 L426.60,399.91 L427.50,400.75 L428.40,399.84 L429.30,400.28 L430.20,398.09 L431.10,399.81 L432.00,399.67 L432.90,399.34 L433.80,397.41 L434.70,398.86 L435.60,398.19 L436.50,398.39 L437.40,398.04 L438.30,397.92 L439.20,397.63 L440.10,397.45 L441.00,396.74 L441.90,396.98 L442.80,395.15 L443.70,396.51 L444.60,396.08 L445.50,396.04 L446.40,394.72 L447.30,395.57 L448.20,394.13 L449.10,395.10 L450.00,394.24 L450.90,394.62 L451.80,393.38 L452.70,394.15 L453.60,393.98 L454.50,393.68 L455.40,393.52 L456.30,393.21 L457.20,392.72 L458.10,392.74 L459.00,391.21 L459.90,392.27 L460.80,391.29 L461.70,391.80 L462.60,391.07 L463.50,391.33 L464.40,390.00 L465.30,390.86 L466.20,389.82 L467.10,390.38 L468.00,389.69 L468.90,389.91 L469.80,388.13 L470.70,389.44 L471.60,387.87 L472.50,388.97 L473.40,388.40 L474.30,388.50 L475.19,387.84 L476.08,389.31 L476.97,388.75 L477.87,390.11 L478.76,388.79 L479.65,390.92 L480.54,389.92 L481.43,391.72 L482.32,391.69 L483.21,392.53 L484.11,390.98 L485.00,393.33 L485.89,393.68 L486.78,394.14 L487.67,393.82 L488.56,394.95 L489.45,393.88 L490.35,395.75 L491.24,396.02 L492.13,396.56 L493.02,396.08 L493.91,397.36 L494.80,397.88 L495.69,398.17 L496.59,397.30 L497.48,398.97 L498.37,397.90 L499.26,399.78 L500.15,399.12 L501.04,400.59 L501.93,399.26 L502.83,401.39 L503.72,401.30 L504.61,402.20 L505.50,401.27 L506.39,403.00 L507.28,402.30 L508.17,403.81 L509.07,403.14 L509.96,404.61 L510.85,404.21 L511.74,405.42 L512.63,404.17 L513.52,406.23 L514.41,404.75 L515.31,407.03 L516.20,406.59 L517.09,407.84 L517.98,406.98 L518.87,408.64 L519.76,409.11 L520.65,409.45 L521.55,408.51 L522.44,410.25 L523.33,409.43 L524.22,411.06 L525.11,409.48 L526.00,411.87 L526.89,410.66 L527.79,412.67 L528.68,412.65 L529.57,413.48 L530.46,413.23 L531.35,414.28 L532.24,413.41 L533.13,415.09 L534.03,415.64 L534.92,415.89 L535.81,415.48 L536.70,417.20 L536.70,420.20 L455.70,441.40 Z" fill="#4433e0" stroke="none" stroke-width="1" />
<line x1="393.30" y1="412.90" x2="393.30" y2="351.90" stroke="#5a5a5a" stroke-width="0.6" />
<line x1="391.70" y1="412.90" x2="393.30" y2="412.90" stroke="#5a5a5a" stroke-width="0.6" />
<text x="389.90" y="414.66" font-size="6.3" text-anchor="end" fill="#3a3a3a" font-family='"Liberation Sans", Arial, sans-serif' font-weight="normal"  stroke="#3a3a3a" stroke-width="0.16">0</text>
<line x1="391.70" y1="392.57" x2="393.30" y2="392.57" stroke="#5a5a5a" stroke-width="0.6" />
<text x="389.90" y="394.32" font-size="6.3" text-anchor="end" fill="#3a3a3a" font-family='"Liberation Sans", Arial, sans-serif' font-weight="normal"  stroke="#3a3a3a" stroke-width="0.16">2</text>
<line x1="391.70" y1="372.23" x2="393.30" y2="372.23" stroke="#5a5a5a" stroke-width="0.6" />
<text x="389.90" y="373.99" font-size="6.3" text-anchor="end" fill="#3a3a3a" font-family='"Liberation Sans", Arial, sans-serif' font-weight="normal"  stroke="#3a3a3a" stroke-width="0.16">4</text>
<line x1="391.70" y1="351.90" x2="393.30" y2="351.90" stroke="#5a5a5a" stroke-width="0.6" />
<text x="389.90" y="353.66" font-size="6.3" text-anchor="end" fill="#3a3a3a" font-family='"Liberation Sans", Arial, sans-serif' font-weight="normal"  stroke="#3a3a3a" stroke-width="0.16">6</text>
<text x="377.30" y="345.30" font-size="7.2" fill="#3a3a3a" stroke="#3a3a3a" stroke-width="0.1" font-family='"Liberation Sans", Arial, sans-serif'><tspan font-size="5.8">&#215;</tspan><tspan dx="0.9">10</tspan><tspan font-size="5.0" dx="0.5" dy="-2.9">4</tspan></text>
<text x="390.40" y="424.56" font-size="6.3" text-anchor="middle" fill="#3a3a3a" font-family='"Liberation Sans", Arial, sans-serif' font-weight="normal"  stroke="#3a3a3a" stroke-width="0.16">500</text>
<text x="449.70" y="450.56" font-size="6.3" text-anchor="middle" fill="#3a3a3a" font-family='"Liberation Sans", Arial, sans-serif' font-weight="normal"  stroke="#3a3a3a" stroke-width="0.16">0</text>
<text x="461.70" y="450.56" font-size="6.3" text-anchor="middle" fill="#3a3a3a" font-family='"Liberation Sans", Arial, sans-serif' font-weight="normal"  stroke="#3a3a3a" stroke-width="0.16">0</text>
<text x="500.76" y="441.86" font-size="6.3" text-anchor="middle" fill="#3a3a3a" font-family='"Liberation Sans", Arial, sans-serif' font-weight="normal"  stroke="#3a3a3a" stroke-width="0.16">100</text>
<text x="535.53" y="432.76" font-size="6.3" text-anchor="middle" fill="#3a3a3a" font-family='"Liberation Sans", Arial, sans-serif' font-weight="normal"  stroke="#3a3a3a" stroke-width="0.16">200</text>
<text x="390.10" y="440.00" font-size="7.3" text-anchor="start" fill="#3a3a3a" font-family='"Liberation Sans", Arial, sans-serif' font-weight="normal"  stroke="#3a3a3a" stroke-width="0.16">Range Cell</text>
<text x="476.30" y="451.60" font-size="7.3" text-anchor="start" fill="#3a3a3a" font-family='"Liberation Sans", Arial, sans-serif' font-weight="normal"  stroke="#3a3a3a" stroke-width="0.16">Azimuth Doppler Cell</text>
<line x1="465.00" y1="353.50" x2="465.00" y2="408.00" stroke="#7474ea" stroke-width="0.9" />
<line x1="466.60" y1="389.80" x2="466.60" y2="409.00" stroke="#2a9cf2" stroke-width="1.1" />
<line x1="464.60" y1="354.00" x2="464.60" y2="362.00" stroke="#e0a030" stroke-width="0.9" />
<rect x="464.40" y="324.20" width="28.70" height="28.70" fill="#ffffff" stroke="#bdbdbd" stroke-width="0.8"/>
<text x="467.20" y="333.30" font-size="6.2" font-weight="bold" fill="#111" stroke="#111" stroke-width="0.18" font-family='"Liberation Serif", "Times New Roman", serif'>X</text>
<text x="473.10" y="333.30" font-size="6.2" font-weight="bold" fill="#14b0ec" stroke="#14b0ec" stroke-width="0.18" font-family='"Liberation Serif", "Times New Roman", serif'>120</text>
<text x="467.20" y="340.40" font-size="6.2" font-weight="bold" fill="#111" stroke="#111" stroke-width="0.18" font-family='"Liberation Serif", "Times New Roman", serif'>Y</text>
<text x="473.10" y="340.40" font-size="6.2" font-weight="bold" fill="#14b0ec" stroke="#14b0ec" stroke-width="0.18" font-family='"Liberation Serif", "Times New Roman", serif'>295</text>
<text x="467.20" y="347.50" font-size="6.2" font-weight="bold" fill="#111" stroke="#111" stroke-width="0.18" font-family='"Liberation Serif", "Times New Roman", serif'>Z</text>
<text x="473.10" y="347.50" font-size="6.2" font-weight="bold" fill="#14b0ec" stroke="#14b0ec" stroke-width="0.18" font-family='"Liberation Serif", "Times New Roman", serif'>61,300</text>
<rect x="464.60" y="360.20" width="30.00" height="27.90" fill="#ffffff" stroke="#bdbdbd" stroke-width="0.8"/>
<text x="467.40" y="369.30" font-size="6.2" font-weight="bold" fill="#111" stroke="#111" stroke-width="0.18" font-family='"Liberation Serif", "Times New Roman", serif'>X</text>
<text x="473.30" y="369.30" font-size="6.2" font-weight="bold" fill="#14b0ec" stroke="#14b0ec" stroke-width="0.18" font-family='"Liberation Serif", "Times New Roman", serif'>119</text>
<text x="467.40" y="376.40" font-size="6.2" font-weight="bold" fill="#111" stroke="#111" stroke-width="0.18" font-family='"Liberation Serif", "Times New Roman", serif'>Y</text>
<text x="473.30" y="376.40" font-size="6.2" font-weight="bold" fill="#14b0ec" stroke="#14b0ec" stroke-width="0.18" font-family='"Liberation Serif", "Times New Roman", serif'>276</text>
<text x="467.40" y="383.50" font-size="6.2" font-weight="bold" fill="#111" stroke="#111" stroke-width="0.18" font-family='"Liberation Serif", "Times New Roman", serif'>Z</text>
<text x="473.30" y="383.50" font-size="6.2" font-weight="bold" fill="#14b0ec" stroke="#14b0ec" stroke-width="0.18" font-family='"Liberation Serif", "Times New Roman", serif'>55,500</text>
<circle cx="464.6" cy="353.3" r="0.7" fill="#111"/>
<text x="443.65" y="365.35" font-size="8.6" text-anchor="middle" fill="#111" font-family='"Liberation Serif", "Times New Roman", serif' font-weight="bold" stroke="#111" stroke-width="0.3">Target 2</text>
<text x="513.75" y="383.85" font-size="8.6" text-anchor="middle" fill="#111" font-family='"Liberation Serif", "Times New Roman", serif' font-weight="bold" stroke="#111" stroke-width="0.3">Target 1</text>
<line x1="438.40" y1="367.10" x2="458.02" y2="378.17" stroke="#111" stroke-width="0.7" />
<path d="M460.20,379.40 L456.83,379.28 L458.35,376.58 Z" fill="#111" stroke="none" stroke-width="1" />
<line x1="505.60" y1="387.70" x2="470.52" y2="396.49" stroke="#111" stroke-width="0.7" />
<path d="M468.10,397.10 L470.63,394.87 L471.39,397.87 Z" fill="#111" stroke="none" stroke-width="1" />
<text x="379.40" y="385.11" font-size="7.3" text-anchor="middle" fill="#3a3a3a" font-family='"Liberation Sans", Arial, sans-serif' font-weight="normal" transform="rotate(-90 379.40 382.50)" stroke="#3a3a3a" stroke-width="0.16">Amplitude</text>
<text x="88.60" y="473.20" font-size="14" text-anchor="middle" fill="#111" font-family='"Liberation Serif", "Times New Roman", serif'>(<tspan font-weight="normal">g</tspan>)</text>
<text x="274.60" y="473.20" font-size="14" text-anchor="middle" fill="#111" font-family='"Liberation Serif", "Times New Roman", serif'>(<tspan font-weight="bold">h</tspan>)</text>
<text x="461.60" y="473.20" font-size="14" text-anchor="middle" fill="#111" font-family='"Liberation Serif", "Times New Roman", serif'>(<tspan font-weight="normal">i</tspan>)</text>
</svg>
</body></html>
